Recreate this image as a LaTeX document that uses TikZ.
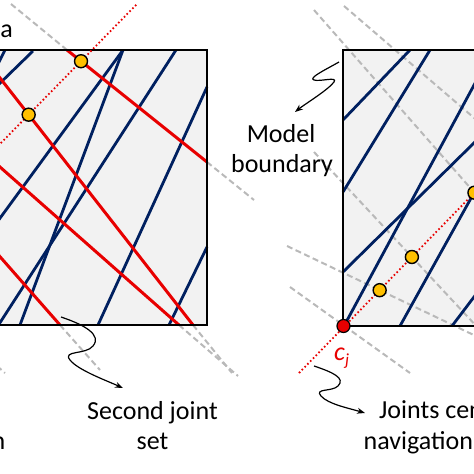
\documentclass[tikz,border=0pt]{standalone}
\usepackage{fontspec}
\setmainfont{Carlito}
\usetikzlibrary{arrows.meta}
\definecolor{navy}{RGB}{0,32,96}
\definecolor{jred}{RGB}{232,0,0}
\definecolor{gold}{RGB}{255,192,0}
\definecolor{ghostgray}{RGB}{185,185,185}
\definecolor{panelfill}{RGB}{242,242,242}
\tikzset{
  joint/.style={navy, line width=2.8pt},
  sjoint/.style={jred, line width=3pt},
  ghost/.style={ghostgray, line width=2pt, dash pattern=on 6pt off 3.5pt},
  navline/.style={jred, line width=1.8pt, dash pattern=on 1.6pt off 2.4pt},
  border/.style={black, line width=2.4pt},
  hitdot/.style={circle, draw=black, line width=1.4pt, fill=gold, minimum size=13pt, inner sep=0pt},
  cjdot/.style={circle, draw=black, line width=1.2pt, fill=jred, minimum size=13pt, inner sep=0pt},
  caption/.style={font=\fontsize{26}{31}\selectfont, inner sep=0pt},
  squiggle/.style={black, line width=1.2pt, -{Stealth[length=8pt,width=6pt]}},
}
\begin{document}
\begin{tikzpicture}[x=1pt,y=-1pt]
\useasboundingbox (0,0) rectangle (474,474);
\clip (0,0) rectangle (474,474);

% ---------------- left panel ----------------
\fill[panelfill] (-10,50) rectangle (207,325);
% gray extensions
\draw[ghost] (11,4) -- (67,50);
\draw[ghost] (207,162) -- (254,200);
\draw[ghost] (193,325) -- (232,373);
\draw[ghost] (179,325) -- (238,376);
\draw[ghost] (60,325) -- (100,370);
\draw[ghost] (-3,366) -- (5,373);
% first joint set
\draw[joint] (5,50) -- (-5,70);
\draw[joint] (33,51) -- (-5,88);
\draw[joint] (123,50) -- (-5,225);
\draw[joint] (123,50) -- (20,325);
\draw[joint] (176,50) -- (-1.5,325);
\draw[joint] (207,87) -- (98,325);
\draw[joint] (207,247) -- (169,325);
% second joint set
\coordinate (r1a) at (67,50);   \coordinate (r1b) at (207,162);
\coordinate (r2a) at (-5,71.6); \coordinate (r2b) at (193,325);
\draw[sjoint] (r1a) -- (r1b);
\draw[sjoint] (r2a) -- (r2b);
\draw[sjoint] (-5,162.6) -- (179,325);
\draw[sjoint] (-5,251) -- (60,325);
\draw[border] (-10,50) -- (207,50) -- (207,325) -- (-10,325);
% navigation line
\coordinate (la) at (-2,146); \coordinate (lb) at (137,4);
\draw[navline] (la) -- (lb);
\node[hitdot] (ly1) at (intersection of r1a--r1b and la--lb) {};
\node[hitdot] (ly2) at (intersection of r2a--r2b and la--lb) {};

% ---------------- right panel ----------------
\fill[panelfill] (343,50) rectangle (490,326);
\coordinate (g2a) at (314,10);  \coordinate (g2b) at (480,199);
\coordinate (g3a) at (314,152); \coordinate (g3b) at (480,330);
\coordinate (g4a) at (287,246); \coordinate (g4b) at (480,338);
\draw[ghost] (344,6) -- (480,123);
\draw[ghost] (g2a) -- (g2b);
\draw[ghost] (g3a) -- (g3b);
\draw[ghost] (g4a) -- (g4b);
\draw[ghost] (290,287) -- (410,373);
\draw[joint] (410,50) -- (343,120);
\draw[joint] (430,50) -- (343,192);
\draw[joint] (480,137) -- (343,272);
\draw[joint] (480,74) -- (344,326);
\draw[joint] (480,182) -- (400,326);
\draw[joint] (480,289) -- (452,326);
\draw[border] (490,50) -- (343,50) -- (343,326) -- (490,326);
\coordinate (ra) at (299,373); \coordinate (rb) at (480,187);
\draw[navline] (ra) -- (rb);
\node[hitdot] (ry1) at (intersection of g4a--g4b and ra--rb) {};
\node[hitdot] (ry2) at (intersection of g3a--g3b and ra--rb) {};
\node[hitdot] (ry3) at (intersection of g2a--g2b and ra--rb) {};
\node[cjdot] (cj) at (343.5,326) {};
\node[caption, text=jred, anchor=base west] (cjlab) at (334,360)
  {\itshape c{\fontsize{17}{17}\selectfont\raisebox{-5pt}{j}}};

% ---------------- labels ----------------
\node[caption, anchor=base east] (la1) at (13,37) {a};
\node[caption, anchor=base] (mb1) at (281,142) {Model};
\node[caption, anchor=base] (mb2) at (282,172.5) {boundary};
\node[caption, anchor=base] (sj1) at (152.5,419) {Second joint};
\node[caption, anchor=base] (sj2) at (152.5,449) {set};
\node[caption, anchor=base east] (fj2) at (5.5,449) {n};
\node[caption, anchor=base west] (jc1) at (379,418) {Joints center};
\node[caption, anchor=base west] (jc2) at (363.5,449) {navigation};

% ---------------- squiggle arrows ----------------
\coordinate (s1a) at (61,317); \coordinate (s1b) at (123,388);
\draw[squiggle] (s1a) .. controls (85,325) and (102,335) .. (93,346)
  .. controls (86,355) and (62,350) .. (70,360)
  .. controls (78,370) and (105,380) .. (s1b);
\coordinate (s2a) at (339,62); \coordinate (s2b) at (295,112);
\draw[squiggle] (s2a) .. controls (325,70) and (308,78) .. (314,80)
  .. controls (320,82) and (338,76) .. (334,82)
  .. controls (328,90) and (305,104) .. (s2b);
\coordinate (s3a) at (314,366); \coordinate (s3b) at (365,413);
\draw[squiggle] (s3a) .. controls (332,372) and (346,378) .. (338,386)
  .. controls (332,392) and (314,388) .. (321,396)
  .. controls (328,404) and (348,408) .. (s3b);
\end{tikzpicture}
\end{document}
